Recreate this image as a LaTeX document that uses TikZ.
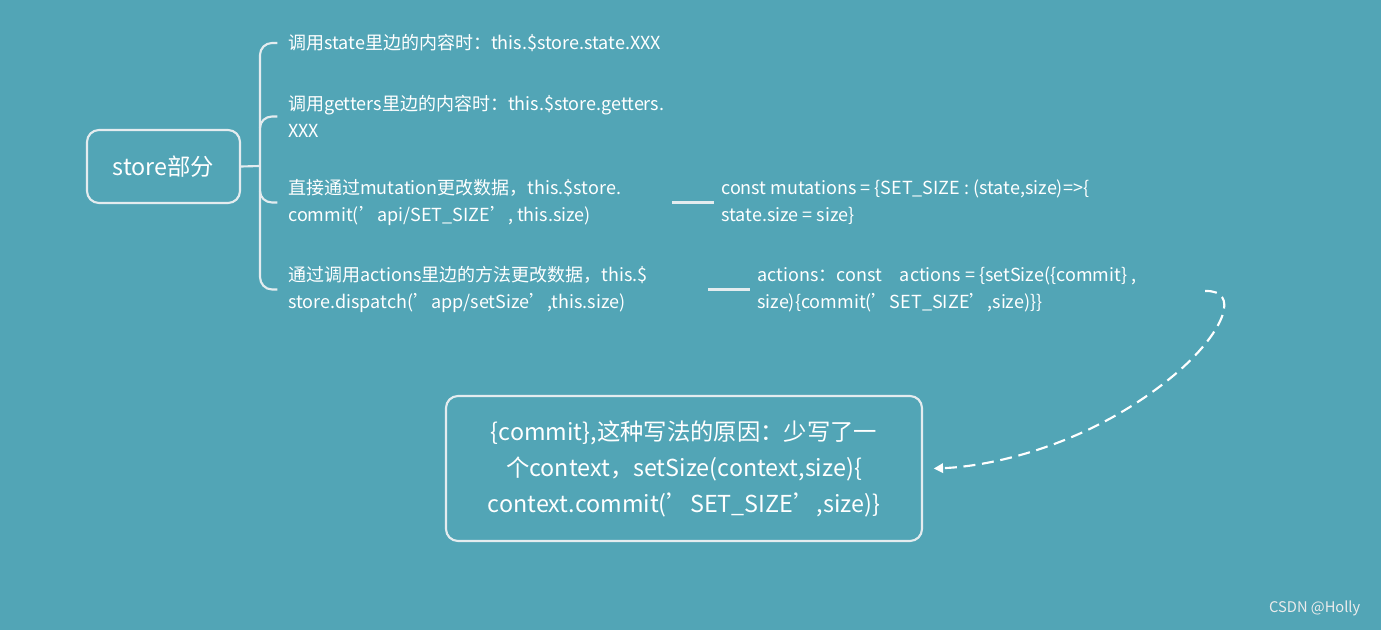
\documentclass[tikz,border=0pt]{standalone}
\usepackage{fontspec}
\setmainfont{Noto Sans CJK SC}
\usetikzlibrary{arrows.meta}
\definecolor{bg}{HTML}{52A5B6}
\definecolor{ln}{HTML}{E4ECEF}
\begin{document}
\begin{tikzpicture}[x=0.75pt,y=-0.75pt,
  sm/.style={anchor=west,inner sep=0pt,text=white,align=left,font=\fontsize{13.5}{20.25}\selectfont},
  big/.style={draw=ln,line width=1.6pt,rounded corners=9pt,text=white,align=center,font=\fontsize{17.5}{27}\selectfont},
  conn/.style={draw=ln,line width=1.6pt}]
\fill[bg] (0,0) rectangle (1381,630);
\useasboundingbox (0,0) rectangle (1381,630);
\node[big,minimum width=153*0.75pt,minimum height=73*0.75pt] (store) at (163.5,166.5) {store部分};
\node[sm] (t1) at (288,43) {调用state里边的内容时：this.\$store.state.XXX};
\node[sm] (t2) at (288,116.5) {调用getters里边的内容时：this.\$store.getters.\\XXX};
\node[sm] (t3) at (288,202.5) {直接通过mutation更改数据，this.\$store.\\commit('api/SET\_SIZE', this.size)};
\node[sm] (t4) at (288,289.5) {通过调用actions里边的方法更改数据，this.\$\\store.dispatch('app/setSize',this.size)};
\node[sm] (r3) at (721,202.5) {const mutations = \{SET\_SIZE : (state,size)=>\{\\state.size = size\}};
\node[sm] (r4) at (757,289.5) {actions：const\quad actions = \{setSize(\{commit\} ,\\size)\{commit('SET\_SIZE',size)\}\}};
\node[big,minimum width=476*0.75pt,minimum height=145*0.75pt] (note) at (684,468.5) {\{commit\},这种写法的原因：少写了一\\个context，setSize(context,size)\{\\context.commit('SET\_SIZE',size)\}};
\coordinate (bx) at (260,166);
\draw[conn] (store.east) -- (bx);
\draw[conn] ([xshift=-8pt]t1.west) -- (272,43) to[out=180,in=90] (260,55) -- (260,277) to[out=-90,in=180] (272,289.5) -- ([xshift=-8pt]t4.west);
\draw[conn] (260,128) to[out=90,in=180] (272,116.5) -- ([xshift=-8pt]t2.west);
\draw[conn] (260,191) to[out=-90,in=180] (272,202.5) -- ([xshift=-8pt]t3.west);
\draw[conn] (672,202.5) -- ([xshift=-5pt]r3.west);
\draw[conn] (708,289.5) -- ([xshift=-5pt]r4.west);
\coordinate (ds) at (1205,291);
\draw[white,line width=1.6pt,dash pattern=on 9pt off 5pt,-{Triangle[length=7pt,width=7pt]}] (ds) .. controls (1240,290) and (1225,330) .. (1180,370) .. controls (1100,440) and (1000,466) .. ([xshift=8pt]note.east);
\node[anchor=east,text=white!85!gray,font=\fontsize{11}{13}\selectfont] (wm) at (1365,608) {CSDN @Holly};
\end{tikzpicture}
\end{document}
